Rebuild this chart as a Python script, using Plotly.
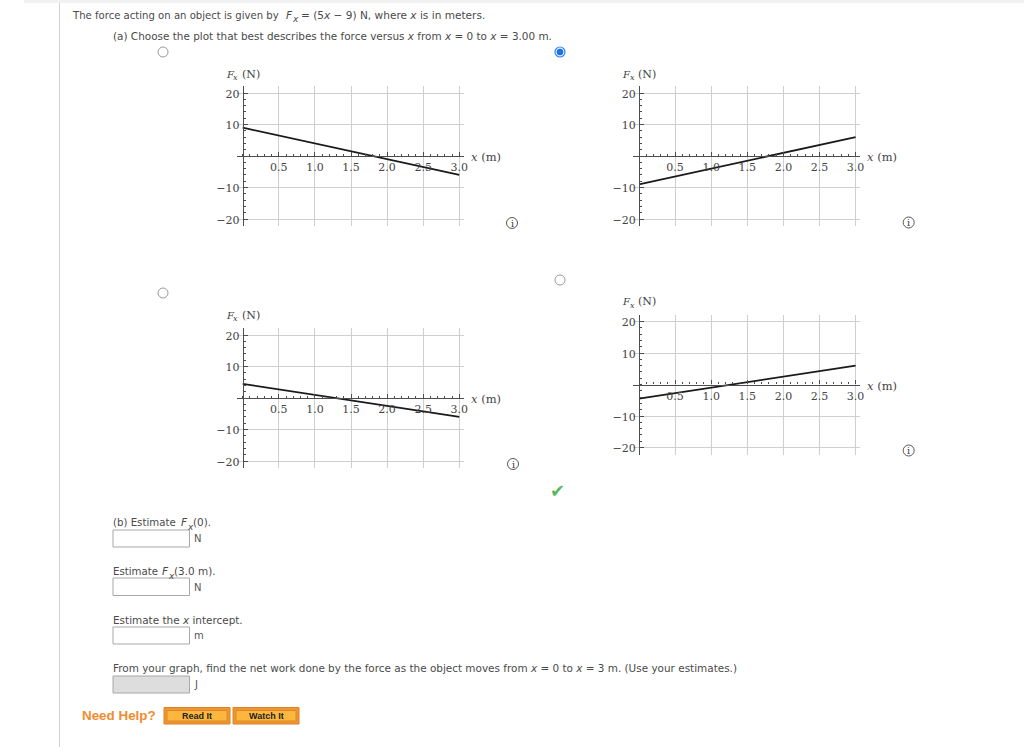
import plotly.graph_objects as go

# ---- data ----
x_endpoints = [0, 3]
force_a = [9, -6]
force_b = [-9, 6]
force_c = [4.5, -6]
force_d = [-4.5, 6]
x_ticks = [0.5, 1.0, 1.5, 2.0, 2.5, 3.0]
x_tick_labels = ["0.5", "1.0", "1.5", "2.0", "2.5", "3.0"]
y_ticks = [-20, -10, 10, 20]
y_tick_labels = ["\u221220", "\u221210", "10", "20"]

W, H = 1024, 747
SERIF = "DejaVu Serif"
SANS = "DejaVu Sans"
TXT = "#4a4a4a"


def fx(px):
    return px / W


def fy(py):
    return 1 - py / H


fig = go.Figure()

# panel frames: y-axis pixel, y=0 pixel, top pixel
panels = [
    (force_a, 242.7, 156.0, 86.0),
    (force_b, 639.0, 156.0, 86.0),
    (force_c, 242.7, 398.0, 328.0),
    (force_d, 639.0, 384.5, 314.5),
]
SX = 72.2
SY = 3.15
GRID = "#cfcfcf"
AX = "#4d4d4d"
for i, (vals, x0, y0, top) in enumerate(panels, start=1):
    left, right = x0 - 6, x0 + 221
    bottom = top + 140
    xname, yname = f"x{i}", f"y{i}"
    fig.add_trace(go.Scatter(x=x_endpoints, y=vals, mode="lines", xaxis=xname, yaxis=yname,
                             line=dict(color="#1a1a1a", width=1.8), hoverinfo="skip", showlegend=False))
    tickfont = dict(family=SERIF, size=11, color="#444444")
    fig.update_layout({
        f"xaxis{i}": dict(
            domain=[fx(left), fx(right)], range=[(left - x0) / SX, (right - x0) / SX],
            anchor="free", position=fy(y0),
            tickmode="array", tickvals=x_ticks, ticktext=x_tick_labels, tickfont=tickfont,
            ticks="inside", ticklen=4, tickcolor=AX, tickwidth=1, ticklabelstandoff=1,
            minor=dict(dtick=0.1, tick0=0, ticks="inside", ticklen=2, tickcolor=AX, showgrid=False),
            showgrid=True, gridcolor=GRID, gridwidth=1, zeroline=False,
            showline=True, linecolor=AX, linewidth=1.2,
        ),
        f"yaxis{i}": dict(
            domain=[fy(bottom), fy(top)], range=[(y0 - bottom) / SY, (y0 - top) / SY],
            anchor="free", position=fx(x0), side="left",
            tickmode="array", tickvals=y_ticks, ticktext=y_tick_labels, tickfont=tickfont,
            ticks="inside", ticklen=4, tickcolor=AX, tickwidth=1, ticklabelstandoff=1,
            ticklabelshift=1,
            minor=dict(dtick=2, tick0=0, ticks="inside", ticklen=2, tickcolor=AX, showgrid=False),
            showgrid=True, gridcolor=GRID, gridwidth=1, zeroline=False,
            showline=True, linecolor=AX, linewidth=1.2,
        ),
    })

annotations = []
shapes = []


def txt(px, py, s, size=10.45, color=TXT, family=SANS, anchor="left"):
    annotations.append(dict(x=fx(px), y=fy(py), xref="paper", yref="paper", text=s, showarrow=False,
                            xanchor=anchor, yanchor="middle", align=anchor, borderpad=0, borderwidth=0,
                            font=dict(size=size, color=color, family=family)))


def rect(x1, y1, x2, y2, fill, line=None, width=1):
    shapes.append(dict(type="rect", xref="paper", yref="paper", x0=fx(x1), x1=fx(x2), y0=fy(y2), y1=fy(y1),
                       fillcolor=fill, line=dict(color=line or fill, width=width if line else 0), layer="below"))


def circ(cx, cy, r, fill, line, width=1):
    shapes.append(dict(type="circle", xref="paper", yref="paper", x0=fx(cx - r), x1=fx(cx + r),
                       y0=fy(cy + r), y1=fy(cy - r), fillcolor=fill, line=dict(color=line, width=width)))


# page furniture
rect(24, 0, 1024, 3, "#f1f1f1")
rect(59, 3, 60, 747, "#d2d2d2")

# question text
txt(71.5, 15, "The force acting on an object is given by", size=10.1)
txt(285.5, 15, "<i>F</i>")
txt(292, 19.5, "<i>x</i>", size=9)
txt(301, 15, "= (5<i>x</i> \u2212 9) N, where <i>x</i> is in meters.", size=10.55)
txt(113, 36, "(a) Choose the plot that best describes the force versus <i>x</i> from <i>x</i> = 0 to <i>x</i> = 3.00 m.")

# axis captions
for x0, y_cap, y_ax in [(242.7, 74, 156), (639, 74, 156), (242.7, 315, 398), (639, 302, 384.5)]:
    txt(x0 - 17, y_cap, "<i>F</i>", size=10, color="#444444", family=SERIF)
    txt(x0 - 9.5, y_cap + 3.5, "<i>x</i>", size=8, color="#444444", family=SERIF)
    txt(x0 - 1, y_cap, "(N)", size=11, color="#444444", family=SERIF)
    txt(x0 + 228, y_ax + 1, "<i>x</i> (m)", size=11.5, color="#444444", family=SERIF)

# radio buttons
circ(163, 52, 5, "white", "#9a9a9a")
circ(560, 52, 5, "white", "#2f86f0", 1.2)
circ(560, 52, 3, "#1a73e8", "#1a73e8")
circ(163, 293, 5, "white", "#9a9a9a")
circ(560, 280, 5, "white", "#9a9a9a")

# info icons
for cx, cy in [(512, 223), (908.7, 222.5), (513, 464), (908.7, 450.5)]:
    circ(cx, cy, 5.5, "white", "#444444", 0.9)
    txt(cx, cy + 0.5, "i", size=9.5, color="#333333", family=SERIF, anchor="center")

# check mark
txt(557, 490.5, "\u2714", size=18, color="#5cb85c", anchor="center")

# part (b)
txt(113, 522, "(b) Estimate", size=10.2)
txt(180.5, 522, "<i>F</i>")
txt(187.2, 526.5, "<i>x</i>", size=9)
txt(192.7, 522, "(0).")
rect(113, 530, 189.5, 547, "white", "#a8a8a8")
txt(194, 538, "N", size=10, color="#555555")
txt(113, 571, "Estimate", size=10.2)
txt(161.5, 571, "<i>F</i>")
txt(168.2, 575.5, "<i>x</i>", size=9)
txt(173.7, 571, "(3.0 m).")
rect(113, 578, 189.5, 595.5, "white", "#a8a8a8")
txt(194, 587, "N", size=10, color="#555555")
txt(113, 620, "Estimate the <i>x</i> intercept.")
rect(113, 627, 189.5, 644, "white", "#a8a8a8")
txt(194, 635, "m", size=10, color="#555555")
txt(113, 668, "From your graph, find the net work done by the force as the object moves from <i>x</i> = 0 to <i>x</i> = 3 m. (Use your estimates.)")
rect(113, 676, 189.5, 693, "#dddddd", "#a8a8a8")
txt(194, 684, "J", size=10, color="#555555")

# help row
txt(82, 715.5, "<b>Need Help?</b>", size=13.4, color="#f08c2e", family="Liberation Sans")
for x1, x2, label in [(164, 230, "Read It"), (233, 299, "Watch It")]:
    rect(x1, 707.5, x2, 724, "#f0962e", "#d9822b")
    rect(x1 + 3, 710.5, x2 - 3, 721, "#fdb73f", "#d98a2b")
    txt((x1 + x2) / 2, 716, f"<b>{label}</b>", size=9, color="#222222", family="Liberation Sans", anchor="center")

fig.update_layout(width=W, height=H, margin=dict(l=0, r=0, t=0, b=0, autoexpand=False), autosize=False,
                  paper_bgcolor="white", plot_bgcolor="rgba(0,0,0,0)", showlegend=False,
                  annotations=annotations, shapes=shapes)
fig.write_html("out.html", config=dict(displayModeBar=False),
               post_script="document.body.style.margin='0';document.body.style.overflow='hidden';")
